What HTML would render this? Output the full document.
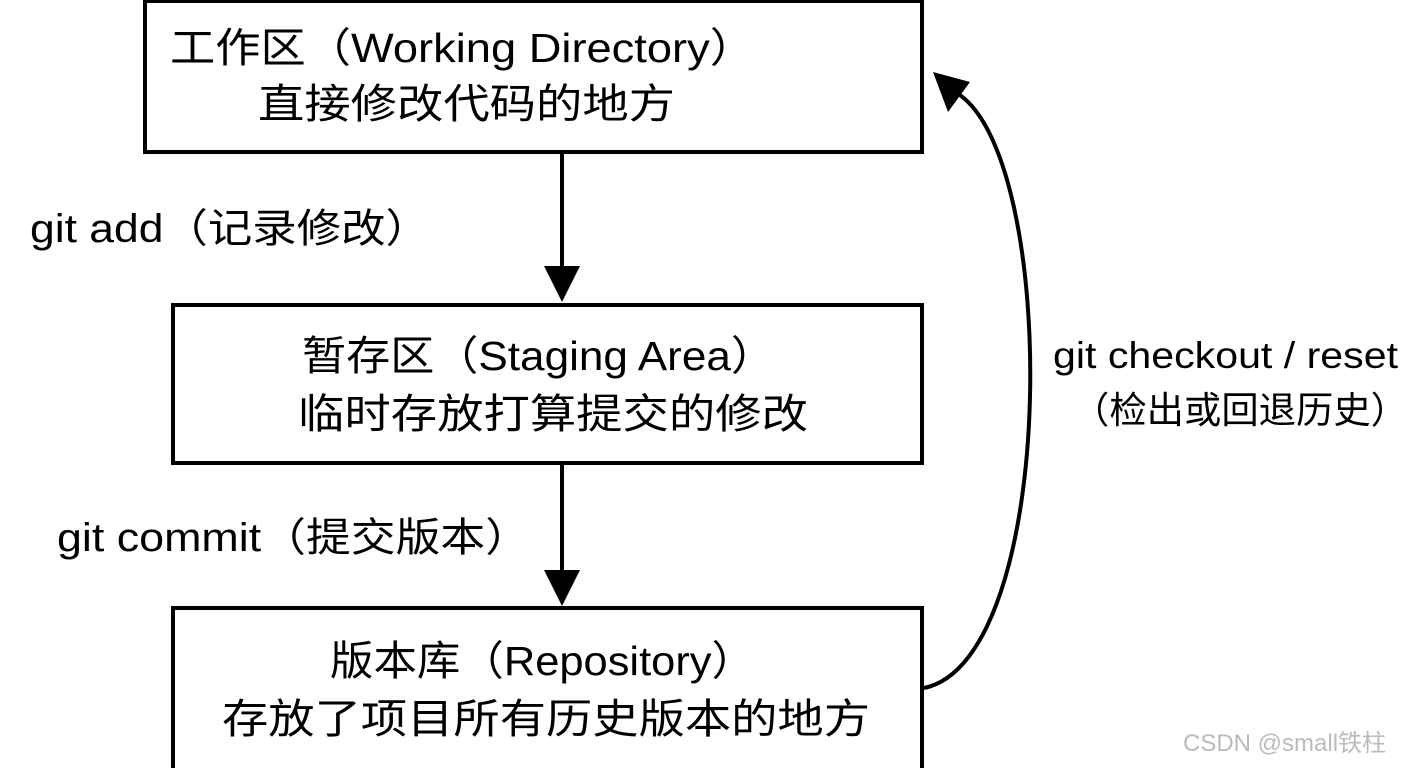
<!DOCTYPE html>
<html><head><meta charset="utf-8"><style>
html,body{margin:0;padding:0;background:#fff;}
svg{display:block;}
text{font-family:"Liberation Sans","Noto Sans CJK SC",sans-serif;fill:#000;}
</style></head><body>
<svg width="1408" height="768" viewBox="0 0 1408 768" xmlns="http://www.w3.org/2000/svg">
<rect x="145" y="1" width="777" height="151" fill="none" stroke="#000" stroke-width="4"/>
<rect x="173" y="305" width="749" height="158" fill="none" stroke="#000" stroke-width="4"/>
<rect x="173" y="608" width="749" height="170" fill="none" stroke="#000" stroke-width="4"/>
<text x="170" y="62" font-size="41" textLength="585" lengthAdjust="spacingAndGlyphs">工作区（Working Directory）</text>
<text x="258" y="118" font-size="41" textLength="417" lengthAdjust="spacingAndGlyphs">直接修改代码的地方</text>
<text x="302" y="370" font-size="41" textLength="473" lengthAdjust="spacingAndGlyphs">暂存区（Staging Area）</text>
<text x="298" y="428" font-size="41" textLength="510" lengthAdjust="spacingAndGlyphs">临时存放打算提交的修改</text>
<text x="330" y="675" font-size="41" textLength="425" lengthAdjust="spacingAndGlyphs">版本库（Repository）</text>
<text x="222" y="733" font-size="41" textLength="648" lengthAdjust="spacingAndGlyphs">存放了项目所有历史版本的地方</text>
<line x1="562" y1="152" x2="562" y2="270" stroke="#000" stroke-width="4"/>
<path d="M544,266 L580,266 L562,302 z"/>
<line x1="562" y1="463" x2="562" y2="572" stroke="#000" stroke-width="4"/>
<path d="M544,570 L580,570 L562,606 z"/>
<path d="M924,688 C1060,660 1060,150 955,92" fill="none" stroke="#000" stroke-width="4"/>
<path d="M933,72 L970,82 L948,112 z"/>
<text x="30" y="242" font-size="40" textLength="400" lengthAdjust="spacingAndGlyphs">git add（记录修改）</text>
<text x="57" y="551" font-size="40" textLength="473" lengthAdjust="spacingAndGlyphs">git commit（提交版本）</text>
<text x="1053" y="368" font-size="37" textLength="345" lengthAdjust="spacingAndGlyphs">git checkout / reset</text>
<text x="1072" y="423" font-size="37" textLength="336" lengthAdjust="spacingAndGlyphs">（检出或回退历史）</text>
<text x="1183" y="751" font-size="24" style="fill:#bbb">CSDN @small铁柱</text>
</svg>
</body></html>
